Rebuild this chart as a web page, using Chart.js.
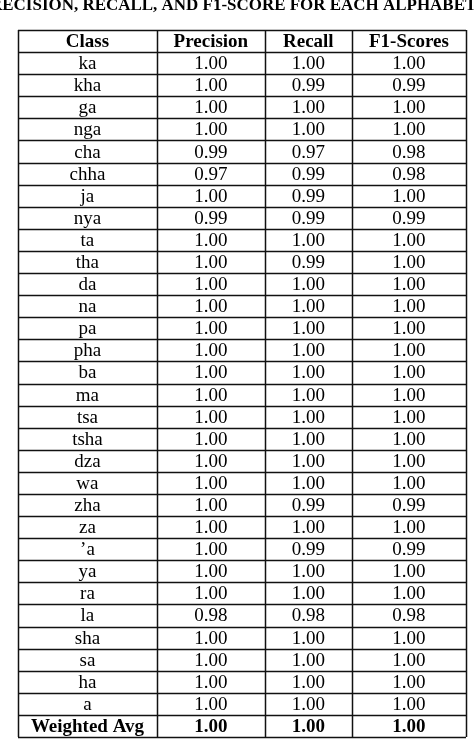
<!DOCTYPE html>
<html lang="en">
<head>
<meta charset="UTF-8">
<title>Per-class scores</title>
<script src="https://cdn.jsdelivr.net/npm/chart.js"></script>
<style>
  * { margin: 0; padding: 0; box-sizing: border-box; }
  body { background: #fff; width: 474px; height: 739px; overflow: hidden; }
  #wrap { position: relative; width: 474px; height: 739px; }
</style>
</head>
<body>
<div id="wrap"><canvas id="tbl"></canvas></div>
<script>
const headers = ['Class', 'Precision', 'Recall', 'F1-Scores'];
const classes = ['ka','kha','ga','nga','cha','chha','ja','nya','ta','tha','da','na','pa','pha','ba','ma',
  'tsa','tsha','dza','wa','zha','za','\u2019a','ya','ra','la','sha','sa','ha','a','Weighted Avg'];
const precision = [1.00,1.00,1.00,1.00,0.99,0.97,1.00,0.99,1.00,1.00,1.00,1.00,1.00,1.00,1.00,1.00,
  1.00,1.00,1.00,1.00,1.00,1.00,1.00,1.00,1.00,0.98,1.00,1.00,1.00,1.00,1.00];
const recall = [1.00,0.99,1.00,1.00,0.97,0.99,0.99,0.99,1.00,0.99,1.00,1.00,1.00,1.00,1.00,1.00,
  1.00,1.00,1.00,1.00,0.99,1.00,0.99,1.00,1.00,0.98,1.00,1.00,1.00,1.00,1.00];
const f1 = [1.00,0.99,1.00,1.00,0.98,0.98,1.00,0.99,1.00,1.00,1.00,1.00,1.00,1.00,1.00,1.00,
  1.00,1.00,1.00,1.00,0.99,1.00,0.99,1.00,1.00,0.98,1.00,1.00,1.00,1.00,1.00];

// column edges as fraction of table width (layout)
const colEdges = [0, 0.31, 0.551, 0.745, 1];
const nRows = classes.length + 1;

const tablePlugin = {
  id: 'tablePlugin',
  afterDraw(chart) {
    const { ctx, scales: { x, y } } = chart;
    const cols = [classes, precision, recall, f1];
    ctx.save();
    ctx.fillStyle = '#000';
    ctx.textAlign = 'center';
    ctx.textBaseline = 'middle';
    // title (small caps, clipped by page edges)
    ctx.font = 'bold 16px "Liberation Serif"';
    const title = 'Precision, Recall, and F1-Score for Each Alphabet'.toUpperCase();
    ctx.save();
    ctx.translate(228, 6);
    ctx.scale(1.06, 1);
    ctx.fillText(title, 0, 0);
    ctx.restore();

    for (let r = 0; r < nRows; r++) {
      const yc = y.getPixelForValue(r + 0.5);
      const bold = r === 0 || r === nRows - 1;
      ctx.font = (bold ? 'bold ' : '') + '19px "Liberation Serif"';
      for (let c = 0; c < 4; c++) {
        const xc = x.getPixelForValue((colEdges[c] + colEdges[c + 1]) / 2);
        let txt;
        if (r === 0) txt = headers[c];
        else if (c === 0) txt = cols[0][r - 1];
        else txt = cols[c][r - 1].toFixed(2);
        ctx.fillText(txt, xc, yc + 1);
      }
    }
    ctx.strokeStyle = '#111';
    ctx.lineWidth = 1.5;
    ctx.beginPath();
    for (let r = 0; r <= nRows; r++) {
      const py = Math.round(y.getPixelForValue(r)) + 0.5;
      ctx.moveTo(x.getPixelForValue(0), py);
      ctx.lineTo(x.getPixelForValue(1), py);
    }
    for (const e of colEdges) {
      const px = Math.round(x.getPixelForValue(e)) + 0.5;
      ctx.moveTo(px, y.getPixelForValue(0));
      ctx.lineTo(px, y.getPixelForValue(nRows));
    }
    ctx.stroke();
    ctx.restore();
  }
};

new Chart(document.getElementById('tbl'), {
  type: 'scatter',
  data: { datasets: [{ data: [], pointRadius: 0 }] },
  options: {
    responsive: true,
    maintainAspectRatio: false,
    animation: false,
    layout: { padding: { left: 18, right: 8, top: 30, bottom: 2 } },
    plugins: { legend: { display: false }, tooltip: { enabled: false } },
    scales: {
      x: { type: 'linear', min: 0, max: 1, display: false },
      y: { type: 'linear', min: 0, max: nRows, reverse: true, display: false }
    }
  },
  plugins: [tablePlugin]
});
</script>
</body>
</html>
